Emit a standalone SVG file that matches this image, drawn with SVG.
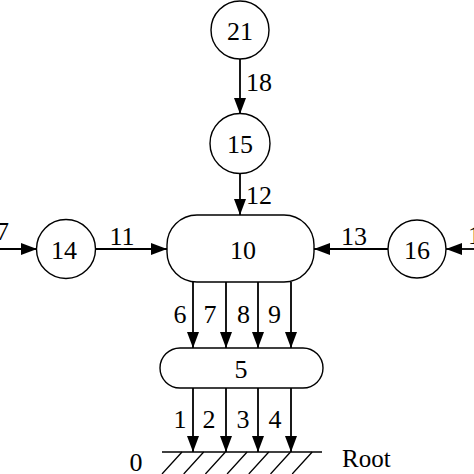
<svg xmlns="http://www.w3.org/2000/svg" width="474" height="474" viewBox="0 0 474 474">
<style>
.n{fill:#fff;stroke:#000;stroke-width:1.4}
.t{font-family:"Liberation Serif","Times New Roman",serif;font-size:26px;fill:#000}
.c{text-anchor:middle}
.e{stroke:#000;stroke-width:1.8;fill:none}
.h{stroke:#000;stroke-width:1.3;fill:none}
</style>
<defs>
<marker id="a" viewBox="0 0 16 12" refX="16" refY="6" markerWidth="16" markerHeight="12" markerUnits="userSpaceOnUse" orient="auto">
<path d="M0,0 L16,6 L0,12 Z" fill="#000"/>
</marker>
</defs>
<rect width="474" height="474" fill="#fff"/>
<g id="connectors">
<line class="e" x1="240" y1="59" x2="240" y2="114" marker-end="url(#a)"/>
<line class="e" x1="240" y1="173" x2="240" y2="215" marker-end="url(#a)"/>
<line class="e" x1="0" y1="249" x2="37" y2="249" marker-end="url(#a)"/>
<line class="e" x1="95" y1="249" x2="167" y2="249" marker-end="url(#a)"/>
<line class="e" x1="388" y1="249" x2="314" y2="249" marker-end="url(#a)"/>
<line class="e" x1="474" y1="249" x2="446" y2="249" marker-end="url(#a)"/>
<line class="e" x1="193" y1="282" x2="193" y2="348" marker-end="url(#a)"/>
<line class="e" x1="226" y1="282" x2="226" y2="348" marker-end="url(#a)"/>
<line class="e" x1="258" y1="282" x2="258" y2="348" marker-end="url(#a)"/>
<line class="e" x1="291" y1="282" x2="291" y2="348" marker-end="url(#a)"/>
<line class="e" x1="193" y1="388" x2="193" y2="452" marker-end="url(#a)"/>
<line class="e" x1="226" y1="388" x2="226" y2="452" marker-end="url(#a)"/>
<line class="e" x1="258" y1="388" x2="258" y2="452" marker-end="url(#a)"/>
<line class="e" x1="291" y1="388" x2="291" y2="452" marker-end="url(#a)"/>
<text class="t" x="246" y="91">18</text>
<text class="t" x="246" y="204">12</text>
<text class="t" x="-4" y="240">7</text>
<text class="t c" x="122" y="245">11</text>
<text class="t c" x="354" y="245">13</text>
<text class="t" x="468" y="244">1</text>
<text class="t c" x="180" y="323">6</text>
<text class="t c" x="210" y="323">7</text>
<text class="t c" x="243.5" y="323">8</text>
<text class="t c" x="274.5" y="323">9</text>
<text class="t c" x="180" y="428">1</text>
<text class="t c" x="209" y="428">2</text>
<text class="t c" x="243" y="428">3</text>
<text class="t c" x="275" y="428">4</text>
</g>
<g id="node21"><circle class="n" cx="240" cy="30" r="29"/><text class="t c" x="240" y="40">21</text></g>
<g id="node15"><circle class="n" cx="240" cy="143.5" r="30"/><text class="t c" x="240" y="153">15</text></g>
<g id="node14"><circle class="n" cx="66" cy="249" r="29.5"/><text class="t c" x="64" y="259">14</text></g>
<g id="node16"><circle class="n" cx="417" cy="249" r="29"/><text class="t c" x="417" y="259">16</text></g>
<g id="node10"><rect class="n" x="167" y="215" width="147" height="67" rx="30" ry="30"/><text class="t c" x="243" y="259">10</text></g>
<g id="node5"><rect class="n" x="160" y="348" width="163" height="40" rx="20" ry="20"/><text class="t c" x="241" y="378">5</text></g>
<g id="root">
<line class="h" x1="162" y1="452" x2="322" y2="452"/>
<path class="h" d="M182,452 l-20,22 M203.7,452 l-20,22 M225.4,452 l-20,22 M247.1,452 l-20,22 M268.8,452 l-20,22 M290.5,452 l-20,22 M312.2,452 l-20,22"/>
<text class="t c" x="136" y="471">0</text>
<text class="t" x="342" y="467" style="font-size:25px">Root</text>
</g>
</svg>
